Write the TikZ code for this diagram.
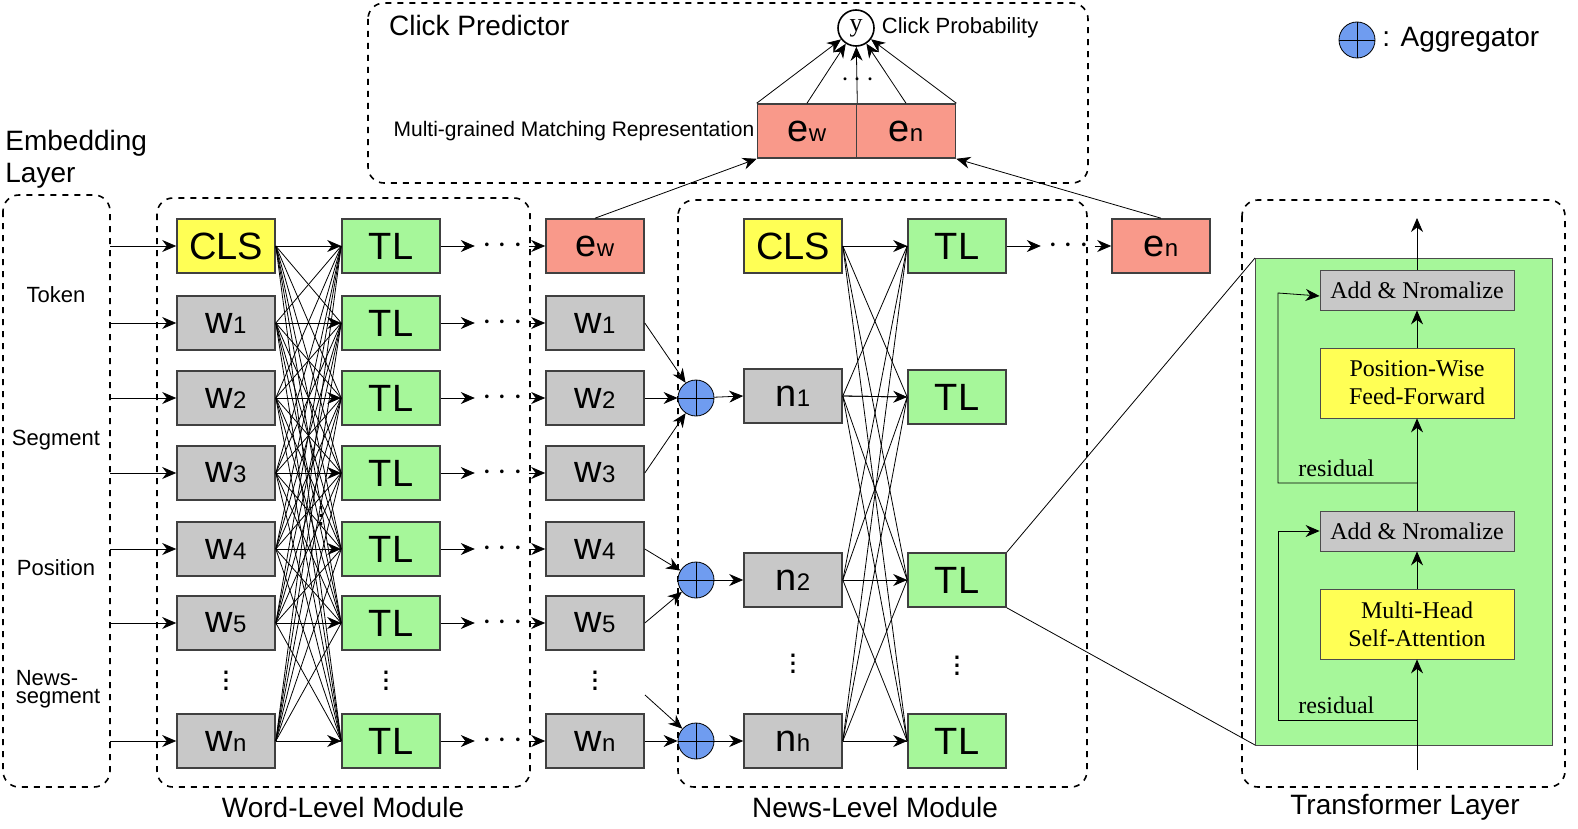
\documentclass[tikz,border=0pt]{standalone}
\usepackage{fontspec}
\setmainfont{Liberation Sans}
\newfontfamily\serifrm{Liberation Serif}
\usetikzlibrary{arrows.meta}
\definecolor{tlgreen}{HTML}{A6F79A}
\definecolor{clsyellow}{HTML}{FFFF55}
\definecolor{wgray}{HTML}{C8C8C8}
\definecolor{esalmon}{HTML}{F9998A}
\definecolor{aggblue}{HTML}{6F9CF0}
\tikzset{
  blk/.style={draw=black!75, thick, minimum width=49pt, minimum height=27pt, inner sep=0pt, font=\fontsize{19}{19}\selectfont},
  wbox/.style={blk, fill=wgray},
  tlbox/.style={blk, fill=tlgreen},
  clsbox/.style={blk, fill=clsyellow},
  ebox/.style={blk, fill=esalmon},
  frame/.style={draw, thick, dashed, rounded corners=8pt},
  agg/.style={circle, draw, fill=aggblue, minimum size=18pt, inner sep=0pt,
    path picture={\draw (path picture bounding box.north) -- (path picture bounding box.south)
      (path picture bounding box.west) -- (path picture bounding box.east);}},
  arr/.style={-{Stealth[length=7pt,width=6pt]}},
  tfbox/.style={draw=black!70, font=\serifrm\fontsize{12}{14}\selectfont, minimum width=97pt, inner sep=0pt, align=center}
}
\newcommand{\sub}[2]{#1{\fontsize{12}{12}\selectfont #2}}
\begin{document}
\begin{tikzpicture}[x=0.5pt, y=-0.5pt]
  \useasboundingbox (0,0) rectangle (1578,829);

  % frames
  \draw[frame] (3,195) rectangle (110,787);
  \draw[frame] (157,198) rectangle (530,787);
  \draw[frame] (678,200) rectangle (1087,787);
  \draw[frame] (368,3) rectangle (1088,183);
  \draw[frame] (1242,200) rectangle (1565,787);

  % embedding layer labels
  \node[anchor=north west, align=left, font=\fontsize{14}{16}\selectfont, inner sep=0pt] (emb) at (5,130) {Embedding\\Layer};
  \foreach \name/\txt/\yy in {tok/Token/295, seg/Segment/440, pos/Position/568}
    \node[font=\fontsize{11}{12}\selectfont] (\name) at (56,\yy) {\txt};
  \node[font=\fontsize{11}{9}\selectfont, align=left] (nseg) at (58,689) {News-\\segment};

  % word-level module
  \node[clsbox] (wc) at (226,246) {CLS};
  \foreach \i/\yy in {1/323, 2/398, 3/473, 4/549, 5/623, n/741}
    \node[wbox] (w\i) at (226,\yy) {\sub{w}{\i}};
  \foreach \i/\yy in {c/246, 1/323, 2/398, 3/473, 4/549, 5/623, n/741}{
    \coordinate (in\i) at (110,\yy);
    \draw[arr] (in\i) -- (w\i.west);
    \node[tlbox] (t\i) at (391,\yy) {TL};
  }
  \foreach \a in {c,1,2,3,4,5,n}
    \foreach \b in {c,1,2,3,4,5,n}
      \draw (w\a.east) -- (t\b.west);
  \foreach \a in {c,1,2,3,4,5,n}
    \draw[arr] (w\a.east) -- (t\a.west);
  \node[font=\fontsize{16}{16}\selectfont] (dw) at (226,675) {$\vdots$};
  \node[font=\fontsize{16}{16}\selectfont] (dt) at (386,675) {$\vdots$};
  \node[font=\fontsize{14}{14}\selectfont, inner sep=0pt] (dm) at (321,510) {$\vdots$};

  % outputs of word-level module
  \node[ebox] (ew) at (595,246) {\sub{e}{w}};
  \foreach \i/\yy in {1/323, 2/398, 3/473, 4/549, 5/623, n/741}
    \node[wbox] (v\i) at (595,\yy) {\sub{w}{\i}};
  \node[font=\fontsize{16}{16}\selectfont] (dv) at (595,675) {$\vdots$};
  \foreach \i/\o in {c/ew, 1/v1, 2/v2, 3/v3, 4/v4, 5/v5, n/vn}{
    \draw[arr] (t\i.east) -- ++(34,0) coordinate (d\i);
    \node[font=\fontsize{16}{16}\selectfont, inner sep=0pt] (dd\i) at ([xshift=14pt]d\i) {$\cdots$};
    \draw[arr] ([xshift=27pt]d\i) -- (\o.west);
  }

  % aggregators
  \node[agg] (g1) at (696,398) {};
  \node[agg] (g2) at (696,580) {};
  \node[agg] (gh) at (696,741) {};
  \draw[arr] (v1.east) -- (g1);
  \draw[arr] (v2.east) -- (g1);
  \draw[arr] (v3.east) -- (g1);
  \draw[arr] (v4.east) -- (g2);
  \draw[arr] (v5.east) -- (g2);
  \coordinate (vdots) at (645,695);
  \draw[arr] (vdots) -- (gh);
  \draw[arr] (vn.east) -- (gh);

  % news-level module
  \node[clsbox] (nc) at (793,246) {CLS};
  \node[wbox] (n1) at (793,396) {\sub{n}{1}};
  \node[wbox] (n2) at (793,580) {\sub{n}{2}};
  \node[wbox] (nh) at (793,741) {\sub{n}{h}};
  \node[font=\fontsize{16}{16}\selectfont] (dn) at (793,658) {$\vdots$};
  \foreach \i in {1,2,h}
    \draw[arr] (g\i) -- (n\i.west);
  \node[tlbox] (uc) at (957,246) {TL};
  \node[tlbox] (u1) at (957,397) {TL};
  \node[tlbox] (u2) at (957,580) {TL};
  \node[tlbox] (uh) at (957,741) {TL};
  \node[font=\fontsize{16}{16}\selectfont] (du) at (957,660) {$\vdots$};
  \foreach \a in {c,1,2,h}
    \foreach \b in {c,1,2,h}
      \draw (n\a.east) -- (u\b.west);
  \foreach \a in {c,1,2,h}
    \draw[arr] (n\a.east) -- (u\a.west);
  \node[ebox] (en) at (1161,246) {\sub{e}{n}};
  \draw[arr] (uc.east) -- ++(34,0) coordinate (du0);
  \node[font=\fontsize{16}{16}\selectfont, inner sep=0pt] (ddu) at ([xshift=14pt]du0) {$\cdots$};
  \draw[arr] ([xshift=27pt]du0) -- (en.west);

  % click predictor
  \node[anchor=west, font=\fontsize{14}{16}\selectfont] (cp) at (382,25) {Click Predictor};
  \node[circle, draw, thick, minimum size=18pt, inner sep=0pt, font=\serifrm\fontsize{13}{13}\selectfont] (y) at (856,28) {y};
  \node[anchor=west, font=\fontsize{11}{12}\selectfont] (cprob) at (y.east) {Click Probability};
  \node[ebox, minimum width=49.5pt] (mw) at (807,131) {\sub{e}{w}};
  \node[ebox, minimum width=49.5pt] (mn) at (906,131) {\sub{e}{n}};
  \node[anchor=east, font=\fontsize{10.5}{12}\selectfont, inner sep=1pt] (mgr) at (mw.west) {Multi-grained Matching Representation};
  \node[font=\fontsize{14}{14}\selectfont] (ydots) at (858,80) {$\cdots$};
  \foreach \p in {mw.north west, mw.north, mw.north east, mn.north, mn.north east}
    \draw[arr] (\p) -- (y);
  \draw[arr] (ew.north) -- (mw.south west);
  \draw[arr] (en.north) -- (mn.south east);

  % transformer layer
  \fill[tlgreen, draw=black!70] (1255,258) rectangle (1552,745);
  \draw (u2.north east) -- (1255,258);
  \draw (u2.south east) -- (1255,745);
  \node[tfbox, fill=wgray, minimum height=20pt] (an1) at (1417,290) {Add \& Nromalize};
  \node[tfbox, fill=clsyellow, minimum height=35pt] (ff) at (1417,383) {Position-Wise\\Feed-Forward};
  \node[tfbox, fill=wgray, minimum height=20pt] (an2) at (1417,531) {Add \& Nromalize};
  \node[tfbox, fill=clsyellow, minimum height=35pt] (mh) at (1417,624) {Multi-Head\\Self-Attention};
  \coordinate (tin) at (1417,770);
  \coordinate (tout) at (1417,218);
  \draw[arr] (tin) -- (mh.south);
  \draw[arr] (mh) -- (an2);
  \draw[arr] (an2) -- (ff);
  \draw[arr] (ff) -- (an1);
  \draw[arr] (an1) -- (tout);
  \draw[arr] (1417,720) -| (1278,531) -- (an2.west);
  \draw[arr] (1417,483) -| (1278,293) -- ([yshift=-3pt]an1.west);
  \node[anchor=south west, font=\serifrm\fontsize{12}{12}\selectfont, inner sep=1pt] (r1) at (1296,716) {residual};
  \node[anchor=south west, font=\serifrm\fontsize{12}{12}\selectfont, inner sep=1pt] (r2) at (1296,479) {residual};

  % legend
  \node[agg] (leg) at (1357,40) {};
  \node[anchor=west, font=\fontsize{14}{16}\selectfont] (legt) at (leg.east) {: Aggregator};

  % module titles
  \node[font=\fontsize{14}{16}\selectfont] (lw) at (343,807) {Word-Level Module};
  \node[font=\fontsize{14}{16}\selectfont] (ln) at (875,807) {News-Level Module};
  \node[font=\fontsize{14}{16}\selectfont] (lt) at (1405,807) {Transformer Layer};
\end{tikzpicture}
\end{document}
